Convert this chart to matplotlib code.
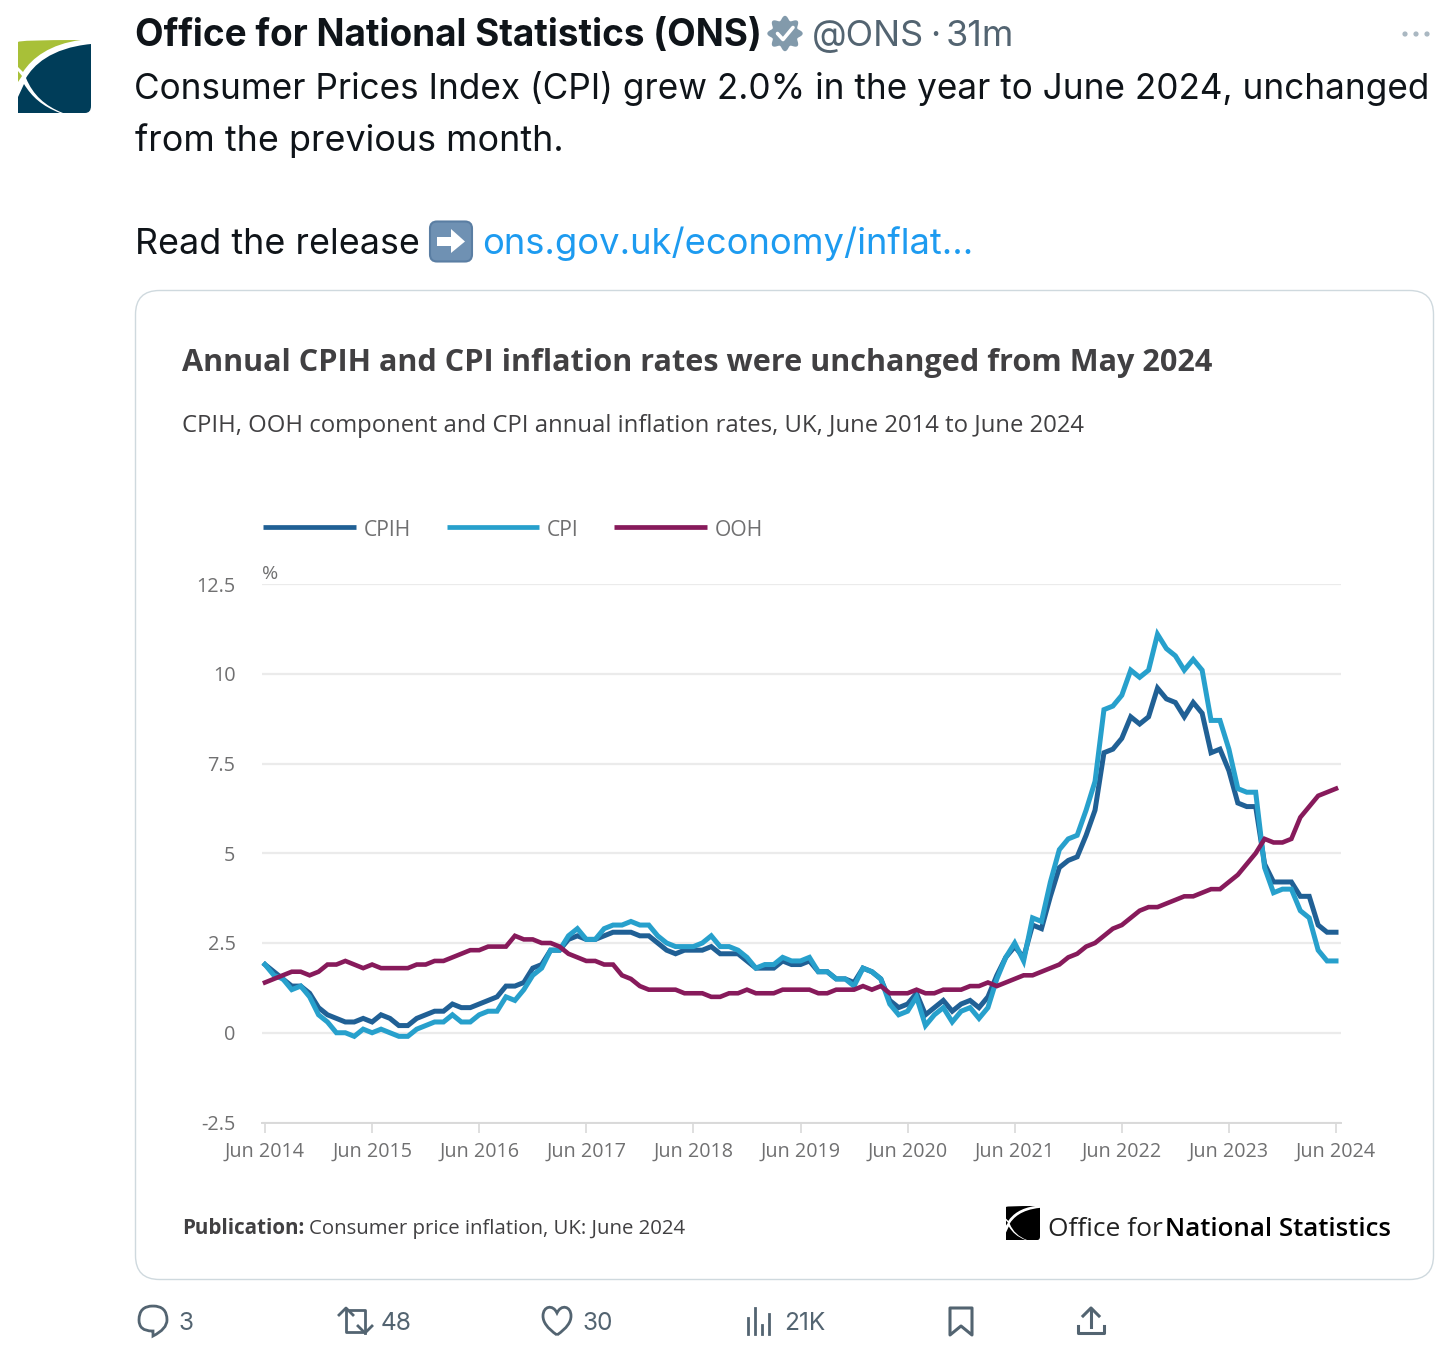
import numpy as np
import matplotlib
matplotlib.use("Agg")
import matplotlib.pyplot as plt
from matplotlib.patches import FancyBboxPatch, PathPatch, Circle, Polygon
from matplotlib.path import Path

WIDTH = 1436
HEIGHT = 1353

# annual rates, one value per month from Jun 2014 to Jun 2024
cpih = [1.9, 1.7, 1.5, 1.3, 1.3, 1.1, 0.7,
        0.5, 0.4, 0.3, 0.3, 0.4, 0.3, 0.5, 0.4, 0.2, 0.2, 0.4, 0.5,
        0.6, 0.6, 0.8, 0.7, 0.7, 0.8, 0.9, 1.0, 1.3, 1.3, 1.4, 1.8,
        1.9, 2.3, 2.3, 2.6, 2.7, 2.6, 2.6, 2.7, 2.8, 2.8, 2.8, 2.7,
        2.7, 2.5, 2.3, 2.2, 2.3, 2.3, 2.3, 2.4, 2.2, 2.2, 2.2, 2.0,
        1.8, 1.8, 1.8, 2.0, 1.9, 1.9, 2.0, 1.7, 1.7, 1.5, 1.5, 1.4,
        1.8, 1.7, 1.5, 0.9, 0.7, 0.8, 1.1, 0.5, 0.7, 0.9, 0.6, 0.8,
        0.9, 0.7, 1.0, 1.6, 2.1, 2.4, 2.1, 3.0, 2.9, 3.8, 4.6, 4.8,
        4.9, 5.5, 6.2, 7.8, 7.9, 8.2, 8.8, 8.6, 8.8, 9.6, 9.3, 9.2,
        8.8, 9.2, 8.9, 7.8, 7.9, 7.3, 6.4, 6.3, 6.3, 4.7, 4.2, 4.2,
        4.2, 3.8, 3.8, 3.0, 2.8, 2.8]
cpi = [1.9, 1.6, 1.5, 1.2, 1.3, 1.0, 0.5,
       0.3, 0.0, 0.0, -0.1, 0.1, 0.0, 0.1, 0.0, -0.1, -0.1, 0.1, 0.2,
       0.3, 0.3, 0.5, 0.3, 0.3, 0.5, 0.6, 0.6, 1.0, 0.9, 1.2, 1.6,
       1.8, 2.3, 2.3, 2.7, 2.9, 2.6, 2.6, 2.9, 3.0, 3.0, 3.1, 3.0,
       3.0, 2.7, 2.5, 2.4, 2.4, 2.4, 2.5, 2.7, 2.4, 2.4, 2.3, 2.1,
       1.8, 1.9, 1.9, 2.1, 2.0, 2.0, 2.1, 1.7, 1.7, 1.5, 1.5, 1.3,
       1.8, 1.7, 1.5, 0.8, 0.5, 0.6, 1.0, 0.2, 0.5, 0.7, 0.3, 0.6,
       0.7, 0.4, 0.7, 1.5, 2.1, 2.5, 2.0, 3.2, 3.1, 4.2, 5.1, 5.4,
       5.5, 6.2, 7.0, 9.0, 9.1, 9.4, 10.1, 9.9, 10.1, 11.1, 10.7, 10.5,
       10.1, 10.4, 10.1, 8.7, 8.7, 7.9, 6.8, 6.7, 6.7, 4.6, 3.9, 4.0,
       4.0, 3.4, 3.2, 2.3, 2.0, 2.0]
ooh = [1.4, 1.5, 1.6, 1.7, 1.7, 1.6, 1.7,
       1.9, 1.9, 2.0, 1.9, 1.8, 1.9, 1.8, 1.8, 1.8, 1.8, 1.9, 1.9,
       2.0, 2.0, 2.1, 2.2, 2.3, 2.3, 2.4, 2.4, 2.4, 2.7, 2.6, 2.6,
       2.5, 2.5, 2.4, 2.2, 2.1, 2.0, 2.0, 1.9, 1.9, 1.6, 1.5, 1.3,
       1.2, 1.2, 1.2, 1.2, 1.1, 1.1, 1.1, 1.0, 1.0, 1.1, 1.1, 1.2,
       1.1, 1.1, 1.1, 1.2, 1.2, 1.2, 1.2, 1.1, 1.1, 1.2, 1.2, 1.2,
       1.3, 1.2, 1.3, 1.1, 1.1, 1.1, 1.2, 1.1, 1.1, 1.2, 1.2, 1.2,
       1.3, 1.3, 1.4, 1.3, 1.4, 1.5, 1.6, 1.6, 1.7, 1.8, 1.9, 2.1,
       2.2, 2.4, 2.5, 2.7, 2.9, 3.0, 3.2, 3.4, 3.5, 3.5, 3.6, 3.7,
       3.8, 3.8, 3.9, 4.0, 4.0, 4.2, 4.4, 4.7, 5.0, 5.4, 5.3, 5.3,
       5.4, 6.0, 6.3, 6.6, 6.7, 6.8]
year_labels = ["Jun 2014", "Jun 2015", "Jun 2016", "Jun 2017", "Jun 2018", "Jun 2019",
               "Jun 2020", "Jun 2021", "Jun 2022", "Jun 2023", "Jun 2024"]
y_ticks = [-2.5, 0, 2.5, 5, 7.5, 10, 12.5]
y_tick_labels = ["-2.5", "0", "2.5", "5", "7.5", "10", "12.5"]

DARK = "#0f1419"
GREY = "#536471"
CPIH_COL = "#206095"
CPI_COL = "#27a0cc"
OOH_COL = "#871a5b"
CHART_TEXT = "#414042"
TICK_TEXT = "#707071"


def draw_logo(ax, x0, y0, size, top_col, main_col):
    s = size / 73.0

    def pts(lst):
        return [(x0 + s * (a - 18), y0 + s * (b - 40)) for a, b in lst]

    top = Path(pts([(18, 42), (18, 40), (81, 40), (50, 44), (32, 58), (23, 72), (18, 67), (18, 42)]),
               [Path.MOVETO, Path.CURVE3, Path.LINETO, Path.CURVE4, Path.CURVE4, Path.CURVE4, Path.LINETO, Path.CLOSEPOLY])
    main = Path(pts([(91, 44), (50, 48), (33, 66), (26, 78), (33, 95), (45, 106), (63, 113),
                     (85, 113), (91, 113), (91, 106), (91, 44)]),
                [Path.MOVETO, Path.CURVE4, Path.CURVE4, Path.CURVE4, Path.CURVE4, Path.CURVE4, Path.CURVE4,
                 Path.LINETO, Path.CURVE3, Path.CURVE3, Path.CLOSEPOLY])
    low = Path(pts([(24, 84), (18, 97), (18, 113), (60, 113), (42, 106), (32, 97), (24, 84)]),
               [Path.MOVETO, Path.LINETO, Path.LINETO, Path.LINETO, Path.CURVE4, Path.CURVE4, Path.CURVE4])
    ax.add_patch(PathPatch(top, fc=top_col, ec="none"))
    ax.add_patch(PathPatch(main, fc=main_col, ec="none"))
    ax.add_patch(PathPatch(low, fc=main_col, ec="none"))
    ax.add_patch(Polygon(pts([(18, 71), (22, 76), (18, 82)]), fc=top_col, ec="none"))


def draw_icons(ax):
    # verified badge
    ang = np.linspace(0, 2 * np.pi, 200)
    r = 15.5 + 2.2 * np.cos(8 * ang)
    ax.add_patch(Polygon(np.c_[785 + r * np.cos(ang), 33.5 + r * np.sin(ang)], fc="#829aab", ec="none"))
    ax.plot([777.5, 783, 793], [33.5, 39.5, 27.5], color="white", lw=2.6, solid_capstyle="round")
    # more dots
    for x in [1405, 1416, 1427]:
        ax.add_patch(Circle((x, 34), 2.6, fc="#aab8c2", ec="none"))
    # arrow emoji
    ax.add_patch(FancyBboxPatch((430, 221.5), 42, 40, boxstyle="round,pad=0,rounding_size=7",
                                fc="#6f91b3", ec="#5a7ea3", lw=1.5))
    ax.add_patch(Polygon([(437, 237), (451, 237), (451, 229), (465, 241.5), (451, 253), (451, 246), (437, 246)],
                         fc="white", ec="none"))
    # reply
    ax.add_patch(PathPatch(Path([(153, 1306), (139, 1306), (139, 1320), (139, 1331), (152, 1331), (153, 1331),
                                 (153, 1336), (167, 1329), (167, 1320), (167, 1306), (153, 1306)],
                                [Path.MOVETO, Path.CURVE3, Path.CURVE3, Path.CURVE3, Path.CURVE3, Path.LINETO,
                                 Path.LINETO, Path.CURVE3, Path.CURVE3, Path.CURVE3, Path.CURVE3]),
                           fc="none", ec=GREY, lw=2.0))
    # retweet
    ax.plot([339, 346, 353], [1315, 1308, 1315], color=GREY, lw=2.0)
    ax.plot([346, 346, 362], [1309, 1332, 1332], color=GREY, lw=2.0)
    ax.plot([350, 365, 365], [1310, 1310, 1333], color=GREY, lw=2.0)
    ax.plot([358, 365, 372], [1326, 1333, 1326], color=GREY, lw=2.0)
    # like
    ax.add_patch(PathPatch(Path([(557, 1335), (547, 1328), (543, 1322), (543, 1316),
                                 (543, 1306), (553, 1304), (557, 1313),
                                 (561, 1304), (571, 1306), (571, 1316),
                                 (571, 1322), (567, 1328), (557, 1335)],
                                [Path.MOVETO] + [Path.CURVE4] * 12),
                           fc="none", ec=GREY, lw=2.0))
    # views
    for x, top in [(748, 1318), (755, 1308), (762, 1325), (769, 1314)]:
        ax.plot([x, x], [top, 1334], color=GREY, lw=2.0)
    # bookmark
    ax.add_patch(Polygon([(950, 1308), (972, 1308), (972, 1335), (961, 1326), (950, 1335)],
                         fc="none", ec=GREY, lw=2.2, joinstyle="round"))
    # share
    ax.plot([1091, 1091], [1309, 1327], color=GREY, lw=2.2)
    ax.plot([1083, 1091, 1099], [1316, 1308, 1316], color=GREY, lw=2.2)
    ax.plot([1078, 1078, 1104, 1104], [1326, 1333, 1333, 1326], color=GREY, lw=2.2)


fig = plt.figure(figsize=(WIDTH / 100, HEIGHT / 100), dpi=100, facecolor="white")
page = fig.add_axes([0, 0, 1, 1])
page.set_xlim(0, WIDTH)
page.set_ylim(HEIGHT, 0)
page.axis("off")

# tweet header
page.add_patch(FancyBboxPatch((135.5, 290.5), 1298, 989, boxstyle="round,pad=0,rounding_size=24",
                              fc="white", ec="#cfd9de", lw=1.0))
draw_logo(page, 18, 40, 73, "#a8c038", "#003d59")
page.text(135, 46, "Office for National Statistics (ONS)", family="Inter", weight="bold", fontsize=26.6, color=DARK)
page.text(812, 46, "@ONS", family="Inter", fontsize=25.9, color=GREY)
page.text(930, 46, "·", family="Inter", fontsize=25.6, color=GREY)
page.text(946, 46, "31m", family="Inter", fontsize=25.9, color=GREY)
page.text(134, 99, "Consumer Prices Index (CPI) grew 2.0% in the year to June 2024, unchanged",
          family="Inter", fontsize=25.3, color=DARK)
page.text(135, 151, "from the previous month.", family="Inter", fontsize=25.8, color=DARK)
page.text(135, 254, "Read the release", family="Inter", fontsize=25.8, color=DARK)
page.text(482, 254, "ons.gov.uk/economy/inflat...", family="Inter", fontsize=26.2, color="#1d9bf0")
draw_icons(page)

# chart heading
page.text(182, 371, "Annual CPIH and CPI inflation rates were unchanged from May 2024",
          family="Open Sans", weight="bold", fontsize=22.1, color=CHART_TEXT)
page.text(182, 432, "CPIH, OOH component and CPI annual inflation rates, UK, June 2014 to June 2024",
          family="Open Sans", fontsize=17.2, color=CHART_TEXT)

# legend
for x0, x1, tx, col, lab in [(263, 356, 364, CPIH_COL, "CPIH"), (447, 539, 547, CPI_COL, "CPI"),
                             (614, 707, 715, OOH_COL, "OOH")]:
    page.plot([x0, x1], [527, 527], color=col, lw=3.4, solid_capstyle="butt")
    page.text(tx, 536, lab, family="Open Sans", fontsize=15.2, color=TICK_TEXT)
page.text(262, 579, "%", family="Open Sans", fontsize=14, color=TICK_TEXT)

# chart, placed so that 0 months is at 265 px and 120 months at 1336 px
px_per_month = (1336 - 265) / 120.0
ax_left, ax_right = 262, 1341
y_top_px, y_bottom_px = 584, 1122.5
ax = fig.add_axes([ax_left / WIDTH, 1 - y_bottom_px / HEIGHT,
                   (ax_right - ax_left) / WIDTH, (y_bottom_px - y_top_px) / HEIGHT])
ax.patch.set_alpha(0)
ax.set_xlim((ax_left - 265) / px_per_month, (ax_right - 265) / px_per_month)
ax.set_ylim(-2.5, 12.5)
for side in ["top", "left", "right"]:
    ax.spines[side].set_visible(False)
ax.spines["bottom"].set_color("#d9d9d9")
ax.spines["bottom"].set_linewidth(1.4)
ax.set_yticks(y_ticks)
ax.set_yticklabels(y_tick_labels, family="Open Sans", fontsize=14.3, color=TICK_TEXT)
ax.set_xticks(np.arange(0, 121, 12))
ax.set_xticklabels(year_labels, family="Open Sans", fontsize=14.2, color=TICK_TEXT)
ax.tick_params(axis="y", length=0, pad=19)
ax.tick_params(axis="x", length=7, width=1.2, color="#d9d9d9", pad=6.5)
ax.grid(axis="y", color="#ebebeb", lw=1.6)
ax.set_axisbelow(True)
months = np.arange(len(cpi))
ax.plot(months, cpih, color=CPIH_COL, lw=3.6, solid_joinstyle="miter", clip_on=False)
ax.plot(months, cpi, color=CPI_COL, lw=3.6, solid_joinstyle="miter", clip_on=False)
ax.plot(months, ooh, color=OOH_COL, lw=3.3, solid_joinstyle="miter", clip_on=False)

# chart footer
page.text(182, 1234, "Publication:", family="Open Sans", weight="bold", fontsize=14.9, color=CHART_TEXT)
page.text(309, 1234, "Consumer price inflation, UK: June 2024", family="Open Sans", fontsize=14.7, color=CHART_TEXT)
draw_logo(page, 1006, 1206, 34, "black", "black")
page.text(1048, 1236, "Office for", family="Open Sans", fontsize=19, color="#222222")
page.text(1165, 1236, "National Statistics", family="Open Sans", weight="semibold", fontsize=18.6, color="black")

# tweet footer
for x, lab in [(178, "3"), (381, "48"), (582, "30"), (784, "21K")]:
    page.text(x, 1330, lab, family="Inter", fontsize=17.6, color=GREY)

fig.savefig("out.png", dpi=100)
